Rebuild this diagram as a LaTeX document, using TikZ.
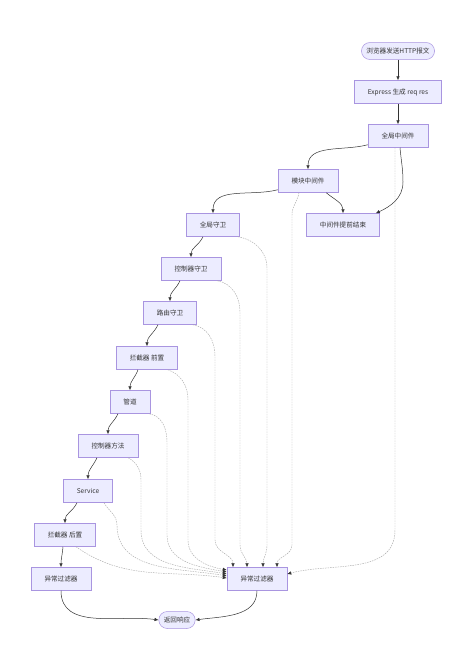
\documentclass[tikz,border=0pt]{standalone}
\usepackage{fontspec}
\setmainfont{Noto Sans CJK SC}
\usetikzlibrary{arrows.meta}
\definecolor{mmfill}{HTML}{ECECFF}
\definecolor{mmstroke}{HTML}{A995E0}
\definecolor{mmline}{HTML}{333333}
\definecolor{mmdash}{HTML}{ABABAB}
\tikzset{
    >={Latex[length=4pt,width=3.5pt]},
    flow/.style={draw=mmline,line width=0.5pt,->},
    every edge/.style={flow}
}

\begin{document}
\begin{tikzpicture}[x=1pt,y=1pt,
                    box/.style={rectangle,draw=mmstroke,fill=mmfill,line width=0.5pt,
                                minimum height=23pt,inner xsep=13.5pt,text=mmline,
                                font=\fontsize{6.6}{8}\selectfont},
                    pill/.style={box,rounded corners=8.5pt,minimum height=17pt,inner xsep=5pt},
                    skip/.style={draw=mmdash,line width=0.45pt,dash pattern=on 1.5pt off 1pt,
                                 -{Latex[length=4pt,width=3.5pt,color=mmline]}}]

\path[use as bounding box,fill=white] (0,0) rectangle (474,-672);

% Nodes
\node[pill] (browser) at (398,-51) {浏览器发送HTTP报文};
\node[box] (express) at (398,-92) {Express 生成 req res};
\node[box] (globalmw) at (398,-136) {全局中间件};
\node[box] (modulemw) at (308,-181) {模块中间件};
\node[box] (mwend) at (343,-225) {中间件提前结束};
\node[box] (globalguard) at (213,-225) {全局守卫};
\node[box] (ctrlguard) at (191,-269) {控制器守卫};
\node[box] (routeguard) at (170,-313) {路由守卫};
\node[box] (interpre) at (147,-358) {拦截器 前置};
\node[box] (pipe) at (130,-402) {管道};
\node[box] (ctrlmethod) at (108,-446) {控制器方法};
\node[box] (service) at (88,-491) {Service};
\node[box] (interpost) at (65,-535) {拦截器 后置};
\node[box] (filterl) at (61,-579) {异常过滤器};
\node[box] (filterr) at (257,-579) {异常过滤器};
\node[pill] (response) at (177,-620) {返回响应};

% Main flow
\path (browser) edge (express);
\path (express) edge (globalmw);
\path ([yshift=3pt]globalmw.south west) edge[out=195,in=90] (modulemw.north);
\draw[flow] ([xshift=2pt]globalmw.south) to[out=-85,in=90] (403,-182)
    to[out=-90,in=25] ([xshift=-4pt]mwend.north east);
\path ([xshift=-12pt]modulemw.south east) edge[out=-40,in=90] (mwend.north);
\path ([yshift=3pt]modulemw.south west) edge[out=195,in=90] (globalguard.north);
\path ([xshift=-10pt]globalguard.south) edge[out=-115,in=90] (ctrlguard.north);
\path ([xshift=-11pt]ctrlguard.south) edge[out=-115,in=90] (routeguard.north);
\path ([xshift=-12pt]routeguard.south) edge[out=-115,in=90] (interpre.north);
\path ([xshift=-9pt]interpre.south) edge[out=-110,in=90] (pipe.north);
\path ([xshift=-12pt]pipe.south) edge[out=-115,in=90] (ctrlmethod.north);
\path ([xshift=-11pt]ctrlmethod.south) edge[out=-115,in=90] (service.north);
\path ([xshift=-11pt]service.south) edge[out=-115,in=90] (interpost.north);
\path ([xshift=-2pt]interpost.south) edge[out=-95,in=90] (filterl.north);
\path (filterl.south) edge[out=-90,in=172] (response.west);
\path (filterr.south) edge[out=-90,in=8] (response.east);

% Exceptions
\draw[skip] ([xshift=-3pt]globalmw.south) -- (395,-530)
    to[out=-90,in=15] ([yshift=5pt]filterr.east);
\draw[skip] ([xshift=-9pt]modulemw.south) to[out=-100,in=90] (292,-215) -- (292,-545)
    to[out=-90,in=90] ([xshift=20pt]filterr.north);
\draw[skip] ([xshift=-2pt]globalguard.south east) to[out=-10,in=90] (267,-268) -- (267,-545)
    to[out=-90,in=90] ([xshift=6pt]filterr.north);
\draw[skip] ([xshift=-4pt]ctrlguard.south east) to[out=-10,in=90] (240,-312) -- (240,-545)
    to[out=-90,in=90] ([xshift=-10pt]filterr.north);
\draw[skip] ([xshift=-4pt]routeguard.south east) to[out=-10,in=90] (215,-356) -- (215,-540)
    to[out=-90,in=90] ([xshift=-24pt]filterr.north);
\draw[skip] ([xshift=-10pt]interpre.south east) to[out=-20,in=90] (188,-400) -- (188,-540)
    to[out=-90,in=170] ([yshift=9pt]filterr.west);
\draw[skip] ([xshift=-1pt]pipe.south east) to[out=-10,in=90] (167,-442) -- (167,-535)
    to[out=-90,in=170] ([yshift=7pt]filterr.west);
\draw[skip] ([xshift=-10pt]ctrlmethod.south east) to[out=-30,in=90] (141,-480) -- (141,-530)
    to[out=-90,in=170] ([yshift=5pt]filterr.west);
\draw[skip] ([xshift=-9pt]service.south east) to[out=-60,in=90] (117,-525)
    to[out=-90,in=170] ([yshift=3pt]filterr.west);
\draw[skip] ([xshift=-20pt]interpost.south east) to[out=-35,in=172] ([yshift=1pt]filterr.west);

\end{tikzpicture}
\end{document}
